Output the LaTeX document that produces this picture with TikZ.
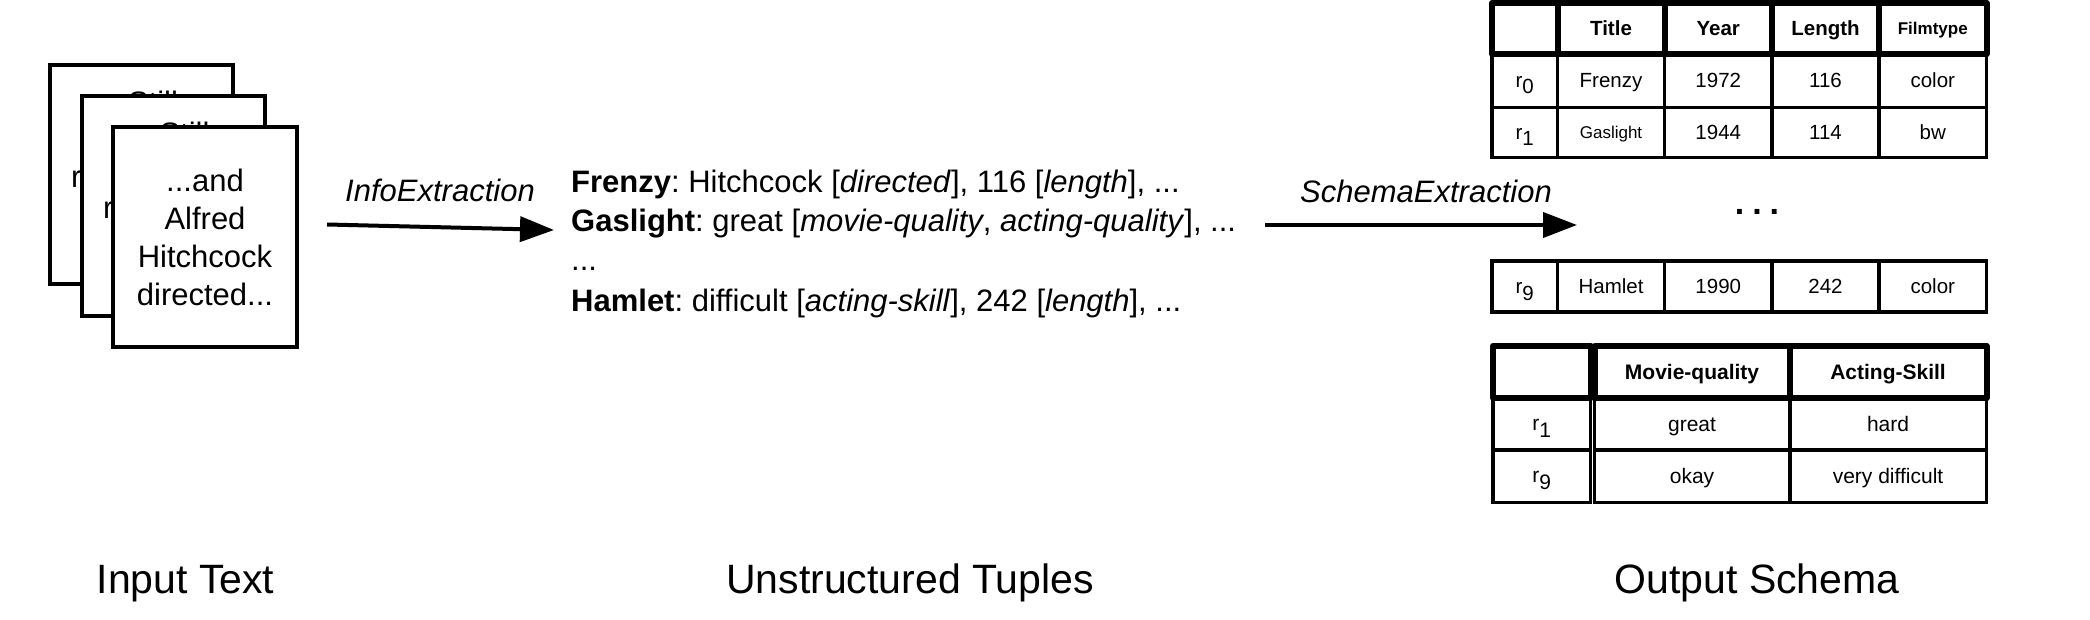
\documentclass[tikz,border=0pt]{standalone}
\usepackage{fontspec}
\setmainfont{Liberation Sans}
\usetikzlibrary{arrows.meta}
\frenchspacing
\newcommand{\fsz}[1]{\fontsize{#1}{#1}\selectfont}
\newcommand{\rsub}[1]{r\raisebox{-6.5pt}{#1}}
\begin{document}
\begin{tikzpicture}[x=1pt,y=-1pt,
  pagebox/.style={draw, line width=3.5pt, fill=white, inner sep=0pt},
  frag/.style={anchor=base, inner sep=0pt, font=\fsz{31}},
  tuple/.style={anchor=base west, inner sep=0pt, font=\fsz{31}},
  arrlabel/.style={anchor=base, inner sep=0pt, font=\fsz{31}\itshape},
  biglabel/.style={anchor=base, inner sep=0pt, font=\fsz{41}},
  arr/.style={line width=4pt, -{Triangle[length=34pt,width=25pt]}},
  hcell/.style={draw, line width=6pt, line join=round},
  bcell/.style={draw, line width=3.5pt},
  ctext/.style={anchor=base, inner sep=0pt, font=\fsz{20.5}},
  stext/.style={anchor=base, inner sep=0pt, font=\fsz{17}},
  htext/.style={anchor=base, inner sep=0pt, font=\fsz{20.5}\bfseries},
  hstext/.style={anchor=base, inner sep=0pt, font=\fsz{17}\bfseries},
  btext/.style={anchor=base, inner sep=0pt, font=\fsz{21}},
  bhtext/.style={anchor=base, inner sep=0pt, font=\fsz{21}\bfseries}]
\useasboundingbox (0,0) rectangle (2090,620);

% ---- input pages ----
\node[pagebox, minimum width=183, minimum height=219] (pback) at (141.5,174.5) {};
\node[frag] (still1) at (153,114) {Still};
\node[frag, anchor=base west] (r1frag) at (71,188) {r};
\node[pagebox, minimum width=183, minimum height=220] (pmid) at (173.5,206) {};
\node[frag] (still2) at (184.5,145) {Still};
\node[frag, anchor=base west] (r2frag) at (103,219) {r};
\node[pagebox, minimum width=184, minimum height=220, align=center,
      font=\fontsize{31}{38}\selectfont] (pfront) at (205,237)
      {...and\\Alfred\\Hitchcock\\directed...};

% ---- arrow 1 ----
\coordinate (a1s) at (327,224.5);
\coordinate (a1e) at (554,230);
\draw[arr] (a1s) -- (a1e);
\node[arrlabel] (lab1) at (440,202) {InfoExtraction};

% ---- tuples ----
\node[tuple] (t1) at (571,192.5) {\textbf{Frenzy}: Hitchcock [\textit{directed}], 116 [\textit{length}], ...};
\node[tuple] (t2) at (571,231.5) {\textbf{Gaslight}: great [\textit{movie-quality}, \textit{acting-quality}], ...};
\node[tuple] (t3) at (571,271) {...};
\node[tuple] (t4) at (571,312) {\textbf{Hamlet}: difficult [\textit{acting-skill}], 242 [\textit{length}], ...};

% ---- arrow 2 ----
\coordinate (a2s) at (1265,225);
\coordinate (a2e) at (1577,225);
\draw[arr] (a2s) -- (a2e);
\node[arrlabel] (lab2) at (1426,203) {SchemaExtraction};

% ---- top table body ----
\foreach \xa/\xb in {1492/1557.5,1557.5/1664.5,1664.5/1772,1772/1879,1879/1986.5}{
  \draw[bcell] (\xa,54) rectangle (\xb,107.5);
  \draw[bcell] (\xa,107.5) rectangle (\xb,157.5);
  \draw[bcell] (\xa,261) rectangle (\xb,312);
}
\foreach \xa/\xb in {1492/1557.5,1557.5/1664.5,1664.5/1772,1772/1879,1879/1986.5}{
  \draw[hcell] (\xa,3) rectangle (\xb,54);
}
\node[htext] (hTitle) at (1611,36) {Title};
\node[htext] (hYear) at (1718.25,36) {Year};
\node[htext] (hLength) at (1825.5,36) {Length};
\node[hstext] (hFilm) at (1932.75,34.5) {Filmtype};

\node[ctext] (r0) at (1524.75,87.5) {\rsub{0}};
\node[ctext] (c01) at (1611,88) {Frenzy};
\node[ctext] (c02) at (1718.25,88) {1972};
\node[ctext] (c03) at (1825.5,88) {116};
\node[ctext] (c04) at (1932.75,88) {color};

\node[ctext] (r1) at (1524.75,139.5) {\rsub{1}};
\node[stext] (c11) at (1611,138.5) {Gaslight};
\node[ctext] (c12) at (1718.25,140) {1944};
\node[ctext] (c13) at (1825.5,140) {114};
\node[ctext] (c14) at (1932.75,140) {bw};

\node[anchor=base, inner sep=0pt, font=\fsz{34}\bfseries] (dots) at (1757,215) {.\hspace{8pt}.\hspace{8pt}.};

\node[ctext] (r9) at (1524.75,293.5) {\rsub{9}};
\node[ctext] (c91) at (1611,294) {Hamlet};
\node[ctext] (c92) at (1718.25,294) {1990};
\node[ctext] (c93) at (1825.5,294) {242};
\node[ctext] (c94) at (1932.75,294) {color};

% ---- bottom table ----
\foreach \xa/\xb in {1493/1590.5,1594.5/1790,1790/1986.5}{
  \draw[bcell] (\xa,398) rectangle (\xb,450);
  \draw[bcell] (\xa,450) rectangle (\xb,502.5);
}
\foreach \xa/\xb in {1493/1590.5,1594.5/1790,1790/1986.5}{
  \draw[hcell] (\xa,346) rectangle (\xb,398);
}
\node[bhtext] (hMQ) at (1692,379.5) {Movie-quality};
\node[bhtext] (hAS) at (1888,379.5) {Acting-Skill};
\node[btext] (b1r) at (1541.75,430.5) {\rsub{1}};
\node[btext] (b1a) at (1692,431.5) {great};
\node[btext] (b1b) at (1888,431.5) {hard};
\node[btext] (b9r) at (1541.75,482.5) {\rsub{9}};
\node[btext] (b9a) at (1692,483.5) {okay};
\node[btext] (b9b) at (1888,483.5) {very difficult};

% ---- bottom labels ----
\node[biglabel] (lin) at (185.5,593) {Input Text};
\node[biglabel] (ltu) at (910,593) {Unstructured Tuples};
\node[biglabel] (lout) at (1757,593) {Output Schema};
\end{tikzpicture}
\end{document}
